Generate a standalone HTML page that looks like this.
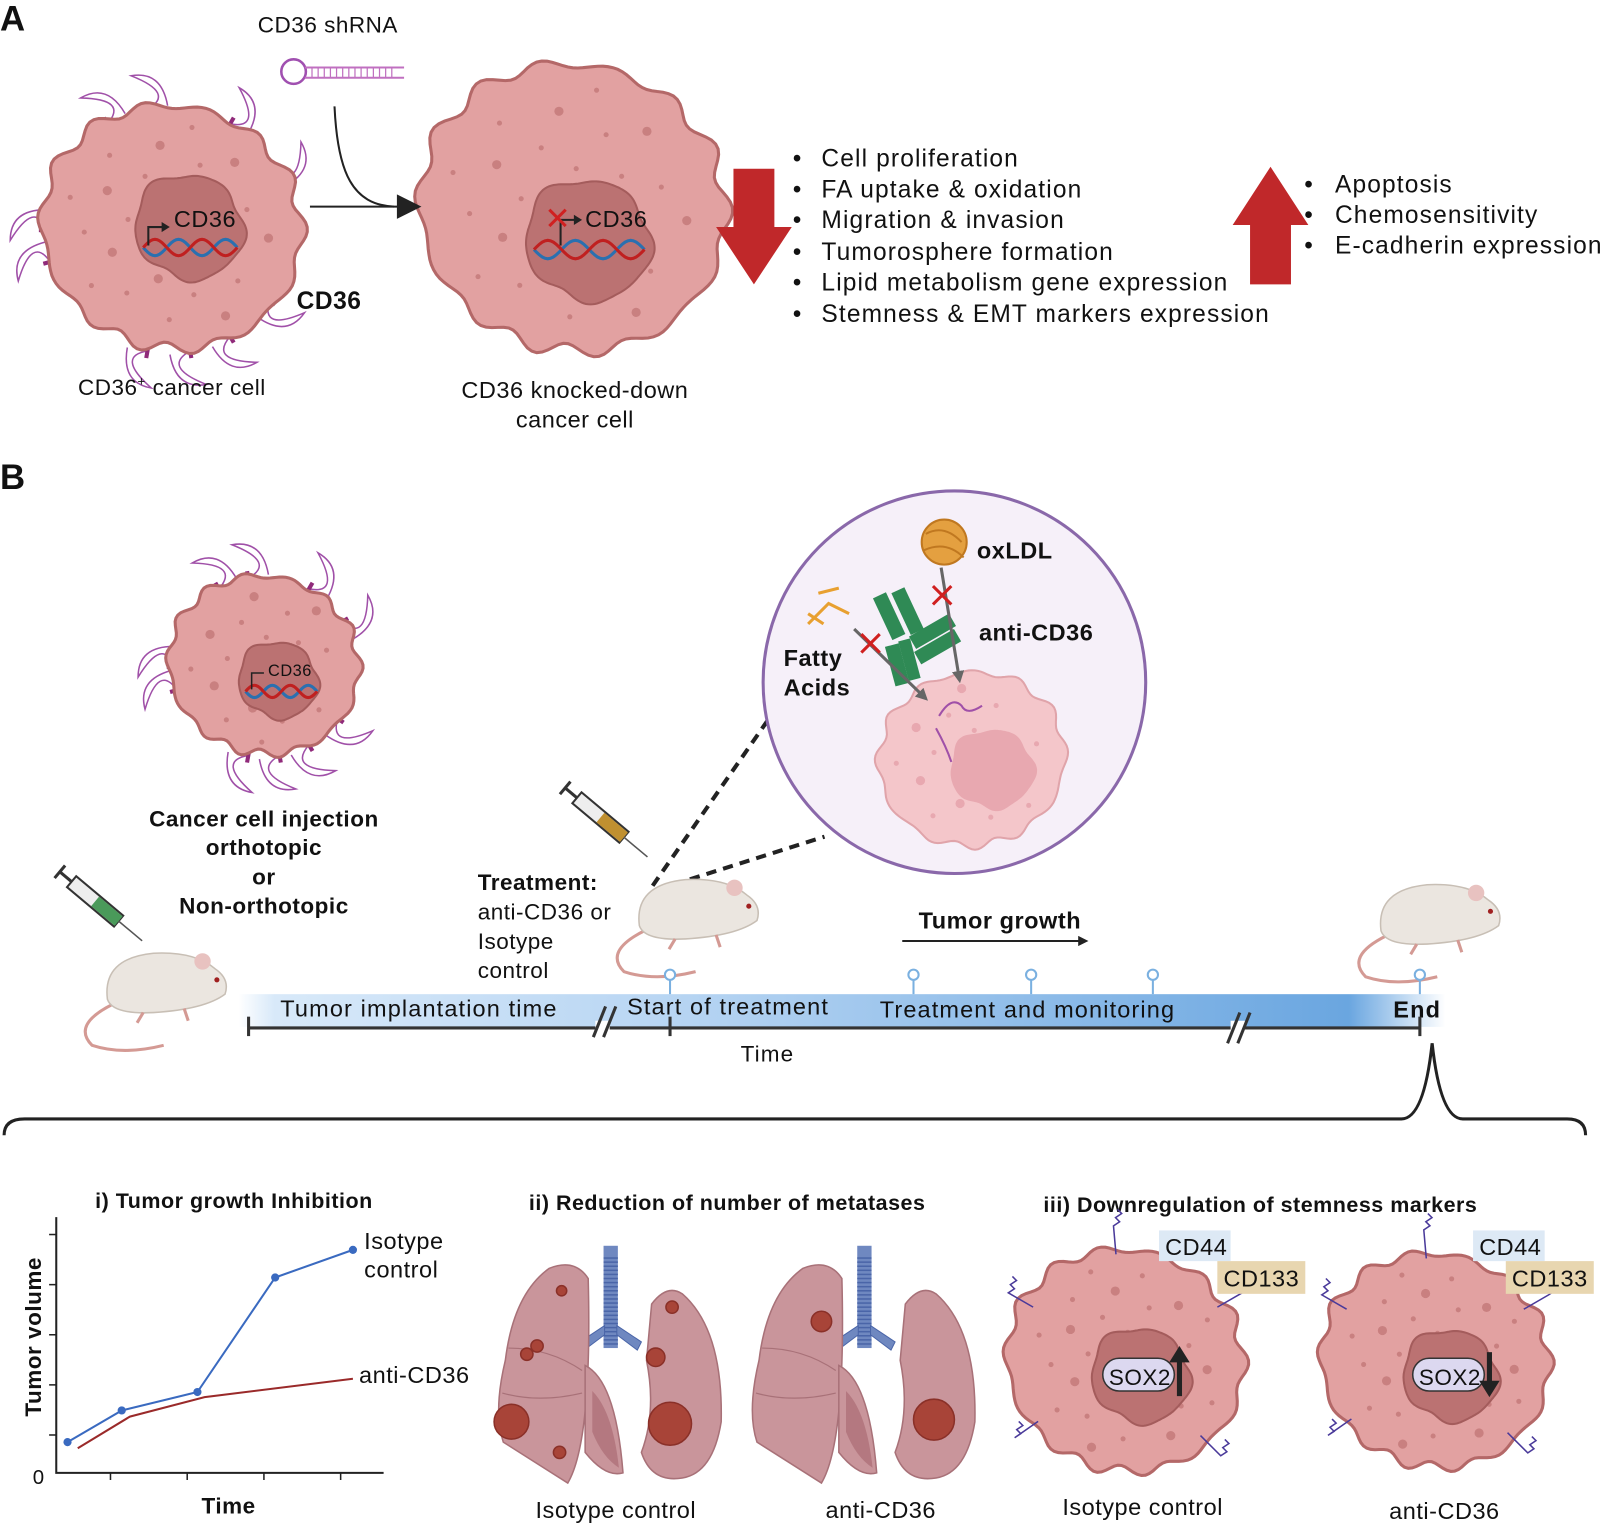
<!DOCTYPE html>
<html><head><meta charset="utf-8"><style>
html,body{margin:0;padding:0;background:#fff;}
svg{display:block;}
text{font-family:"Liberation Sans",sans-serif;fill:#111;letter-spacing:0.5px;}
.b{font-weight:bold;}
.bl text{letter-spacing:1.1px;}
</style></head><body>
<svg id="s" width="1604" height="1525" viewBox="0 0 1568 1491" preserveAspectRatio="none" xmlns="http://www.w3.org/2000/svg">
<defs>
<linearGradient id="tl" x1="0" x2="1" y1="0" y2="0">
<stop offset="0" stop-color="#ffffff"/><stop offset="0.03" stop-color="#d8e9f9"/><stop offset="0.35" stop-color="#b9d6f3"/><stop offset="0.92" stop-color="#6aa6e0"/><stop offset="1" stop-color="#ffffff"/>
</linearGradient>
<marker id="ah" markerWidth="10" markerHeight="10" refX="8" refY="5" orient="auto" markerUnits="userSpaceOnUse"><path d="M0,0 L10,5 L0,10z" fill="#222"/></marker>
<marker id="ahg" markerWidth="12" markerHeight="12" refX="9" refY="6" orient="auto" markerUnits="userSpaceOnUse"><path d="M0,0 L12,6 L0,12z" fill="#666"/></marker>
</defs>
<g id="cells"></g>

<!-- A -->
<text x="0" y="30" class="b" font-size="34">A</text>
<text x="252" y="32" font-size="22">CD36 shRNA</text>
<circle cx="287" cy="70" r="12" fill="none" stroke="#a050b0" stroke-width="2.5"/>
<path d="M298,66 H395 M298,76 H395" stroke="#c070c0" stroke-width="2"/>
<path d="M305,66 V76 M311,66V76 M317,66V76 M323,66V76 M329,66V76 M335,66V76 M341,66V76 M347,66V76 M353,66V76 M359,66V76 M365,66V76 M371,66V76 M377,66V76 M383,66V76" stroke="#c070c0" stroke-width="1.2"/>
<path d="M327,104 C330,170 345,200 385,202" fill="none" stroke="#222" stroke-width="2"/>
<path d="M303,202 H392" stroke="#222" stroke-width="2"/>
<path d="M388,190 L412,202 L388,214z" fill="#222"/>
<text x="168" y="386" font-size="22" text-anchor="middle" fill="#333">CD36<tspan font-size="13" dy="-9">+</tspan><tspan dy="9"> cancer cell</tspan></text>
<text x="290" y="302" font-size="24" class="b">CD36</text>
<text x="562" y="389" font-size="23" text-anchor="middle" fill="#333">CD36 knocked-down</text>
<text x="562" y="418" font-size="23" text-anchor="middle" fill="#333">cancer cell</text>
<!-- red arrows -->
<path d="M717,165 H757 V222 H774 L737,278 L700,222 H717z" fill="#c0282a"/>
<path d="M1222,278 H1262 V220 H1279 L1242,163 L1205,220 H1222z" fill="#c0282a"/>
<g font-size="24" class="bl">
<text x="775" y="163">•</text><text x="803" y="163">Cell proliferation</text>
<text x="775" y="193">•</text><text x="803" y="193">FA uptake &amp; oxidation</text>
<text x="775" y="223">•</text><text x="803" y="223">Migration &amp; invasion</text>
<text x="775" y="254">•</text><text x="803" y="254">Tumorosphere formation</text>
<text x="775" y="284">•</text><text x="803" y="284">Lipid metabolism gene expression</text>
<text x="775" y="315">•</text><text x="803" y="315">Stemness &amp; EMT markers expression</text>
<text x="1275" y="188">•</text><text x="1305" y="188">Apoptosis</text>
<text x="1275" y="218">•</text><text x="1305" y="218">Chemosensitivity</text>
<text x="1275" y="248">•</text><text x="1305" y="248">E-cadherin expression</text>
</g>

<!-- B -->
<text x="0" y="478" class="b" font-size="34">B</text>
<g font-size="22" class="b" text-anchor="middle">
<text x="258" y="808">Cancer cell injection</text>
<text x="258" y="836">orthotopic</text>
<text x="258" y="865">or</text>
<text x="258" y="893">Non-orthotopic</text>
</g>
<!-- zoom circle -->
<line x1="638" y1="866" x2="750" y2="705" stroke="#222" stroke-width="4" stroke-dasharray="10,7"/>
<line x1="642" y1="870" x2="806" y2="818" stroke="#222" stroke-width="4" stroke-dasharray="10,7"/>
<circle cx="933" cy="667" r="187" fill="#f6f0f9" stroke="#8a68aa" stroke-width="3"/>
<g id="inner"></g>
<circle cx="923" cy="530" r="22" fill="#e4a040" stroke="#c07820" stroke-width="2"/>
<path d="M905,522 Q923,512 940,530 M903,538 Q925,528 942,545" stroke="#c07820" stroke-width="2" fill="none"/>
<text x="955" y="546" font-size="23" class="b">oxLDL</text>
<text x="957" y="626" font-size="23" class="b">anti-CD36</text>
<text x="766" y="651" font-size="23" class="b">Fatty</text>
<text x="766" y="680" font-size="23" class="b">Acids</text>
<!-- antibody -->
<g fill="#2f8a55">
<rect x="862" y="580" width="14" height="45" transform="rotate(-25 869 602)"/>
<rect x="880" y="575" width="14" height="45" transform="rotate(-25 887 597)"/>
<rect x="905" y="595" width="14" height="45" transform="rotate(60 912 617)"/>
<rect x="910" y="610" width="14" height="45" transform="rotate(60 917 632)"/>
<rect x="870" y="630" width="14" height="40" transform="rotate(-15 877 650)"/>
<rect x="883" y="625" width="12" height="40" transform="rotate(-15 889 645)"/>
</g>
<path d="M790,610 L810,590 L830,600 M800,580 L820,575 M790,600 L805,610" stroke="#e8a030" stroke-width="3" fill="none"/>
<line x1="920" y1="555" x2="938" y2="665" stroke="#666" stroke-width="3" marker-end="url(#ahg)"/>
<line x1="835" y1="615" x2="905" y2="683" stroke="#666" stroke-width="3" marker-end="url(#ahg)"/>
<path d="M842,620 l18,18 m0,-18 l-18,18" stroke="#d02020" stroke-width="3"/>
<path d="M912,573 l18,18 m0,-18 l-18,18" stroke="#d02020" stroke-width="3"/>

<g font-size="22">
<text x="467" y="870" class="b">Treatment:</text>
<text x="467" y="899">anti-CD36 or</text>
<text x="467" y="928">Isotype</text>
<text x="467" y="956">control</text>
</g>
<g id="syr"></g>
<g id="mice"></g>

<text x="898" y="908" font-size="23" class="b">Tumor growth</text>
<line x1="882" y1="920" x2="1062" y2="920" stroke="#222" stroke-width="2" marker-end="url(#ah)"/>

<rect x="233" y="972" width="1180" height="32" fill="url(#tl)"/>
<g stroke="#7ab0e0" stroke-width="2" fill="#fff">
<line x1="655" y1="958" x2="655" y2="972"/><circle cx="655" cy="953" r="5"/>
<line x1="893" y1="958" x2="893" y2="972"/><circle cx="893" cy="953" r="5"/>
<line x1="1008" y1="958" x2="1008" y2="972"/><circle cx="1008" cy="953" r="5"/>
<line x1="1127" y1="958" x2="1127" y2="972"/><circle cx="1127" cy="953" r="5"/>
<line x1="1388" y1="958" x2="1388" y2="972"/><circle cx="1388" cy="953" r="5"/>
</g>
<g font-size="23" class="bl">
<text x="274" y="994">Tumor implantation time</text>
<text x="613" y="992">Start of treatment</text>
<text x="860" y="995">Treatment and monitoring</text>
<text x="1362" y="995" class="b">End</text>
<text x="724" y="1038" font-size="22" fill="#333">Time</text>
</g>
<g stroke="#333" stroke-width="3">
<line x1="243" y1="1005" x2="1388" y2="1005"/>
<line x1="243" y1="994" x2="243" y2="1013"/>
<line x1="655" y1="994" x2="655" y2="1013"/>
<line x1="1388" y1="994" x2="1388" y2="1013"/>
</g>
<rect x="582" y="998" width="14" height="12" fill="#fff"/>
<rect x="1203" y="998" width="14" height="12" fill="#fff"/>
<g stroke="#333" stroke-width="3">
<line x1="580" y1="1014" x2="592" y2="984"/><line x1="590" y1="1014" x2="602" y2="984"/>
<line x1="1200" y1="1020" x2="1212" y2="990"/><line x1="1210" y1="1020" x2="1222" y2="990"/>
</g>
<!-- brace -->
<path d="M4,1110 Q4,1094 24,1094 L1370,1094 Q1392,1094 1400,1020 Q1408,1094 1430,1094 L1532,1094 Q1550,1094 1550,1110" fill="none" stroke="#222" stroke-width="3"/>

<!-- i -->
<text x="93" y="1181" font-size="21" class="b" fill="#333">i) Tumor growth Inhibition</text>
<path d="M55,1190 V1440 H375" stroke="#222" stroke-width="2" fill="none"/>
<g stroke="#222" stroke-width="1.5">
<line x1="48" y1="1207" x2="55" y2="1207"/><line x1="48" y1="1256" x2="55" y2="1256"/><line x1="48" y1="1305" x2="55" y2="1305"/><line x1="48" y1="1354" x2="55" y2="1354"/><line x1="48" y1="1403" x2="55" y2="1403"/>
<line x1="108" y1="1440" x2="108" y2="1447"/><line x1="183" y1="1440" x2="183" y2="1447"/><line x1="258" y1="1440" x2="258" y2="1447"/><line x1="333" y1="1440" x2="333" y2="1447"/>
</g>
<text x="32" y="1451" font-size="20">0</text>
<text transform="translate(40,1385) rotate(-90)" font-size="22" class="b" fill="#333">Tumor volume</text>
<text x="197" y="1480" font-size="22" class="b" fill="#333">Time</text>
<polyline points="66,1410 119,1379 193,1361 269,1249 345,1222" fill="none" stroke="#3a6ac0" stroke-width="2"/>
<g fill="#3a6ac0"><circle cx="66" cy="1410" r="4"/><circle cx="119" cy="1379" r="4"/><circle cx="193" cy="1361" r="4"/><circle cx="269" cy="1249" r="4"/><circle cx="345" cy="1222" r="4"/></g>
<polyline points="76,1416 127,1385 200,1366 345,1348" fill="none" stroke="#9a2a2a" stroke-width="2"/>
<g font-size="23"><text x="356" y="1221">Isotype</text><text x="356" y="1249">control</text><text x="351" y="1352">anti-CD36</text></g>

<!-- ii -->
<text x="517" y="1183" font-size="21" class="b" fill="#333">ii) Reduction of number of metatases</text>
<g id="lungs"></g>
<text x="602" y="1484" font-size="23" text-anchor="middle">Isotype control</text>
<text x="861" y="1484" font-size="23" text-anchor="middle">anti-CD36</text>

<!-- iii -->
<text x="1020" y="1185" font-size="21" class="b" fill="#333">iii) Downregulation of stemness markers</text>
<g id="cells3"></g>
<text x="1117" y="1481" font-size="23" text-anchor="middle">Isotype control</text>
<text x="1412" y="1485" font-size="23" text-anchor="middle">anti-CD36</text>
</svg>
<script>
var NS="http://www.w3.org/2000/svg";
function el(p,tag,a,txt){var e=document.createElementNS(NS,tag);for(var k in a)e.setAttribute(k,a[k]);if(txt)e.textContent=txt;document.getElementById(p).appendChild(e);return e;}
function blob(cx,cy,r,n,amp,seed){var d="";var N=180;for(var i=0;i<=N;i++){var t=i/N*Math.PI*2;var rr=r+amp*Math.sin(n*t+seed)+amp*0.4*Math.sin((n+3)*t+seed*2)+r*0.04*Math.sin(2*t+seed);var x=cx+rr*Math.cos(t),y=cy+rr*Math.sin(t);d+=(i?"L":"M")+x.toFixed(1)+","+y.toFixed(1);}return d+"Z";}
function dots(g,cx,cy,r,n,col){for(var i=0;i<n;i++){var a=i*2.399,rr=r*Math.sqrt((i+0.5)/n);el(g,"circle",{cx:cx+rr*Math.cos(a),cy:cy+rr*Math.sin(a),r:(i%3==0?4.5:2.5),fill:col});}}
function cell(g,cx,cy,r,nx,ny,nr,opts){opts=opts||{};
el(g,"path",{d:blob(cx,cy,r,14,r*0.035,1),fill:opts.fill||"#e2a1a1",stroke:opts.stroke||"#b46868","stroke-width":3});
dots(g,cx,cy,r*0.85,opts.nd||26,opts.dot||"#c98080");
el(g,"path",{d:blob(nx,ny,nr,5,nr*0.05,0.5),fill:opts.nfill||"#bb7272",stroke:opts.nstroke||"#a45c5c","stroke-width":2});}
function recep(g,cx,cy,r,angs){angs.forEach(function(a){var t=a*Math.PI/180;var x=cx+r*Math.cos(t),y=cy+r*Math.sin(t);var x2=cx+(r+35)*Math.cos(t),y2=cy+(r+35)*Math.sin(t);var px=-Math.sin(t)*10,py=Math.cos(t)*10;
el(g,"path",{d:"M"+x+","+y+" Q"+(x+px*3+(x2-x)*0.3)+","+(y+py*3+(y2-y)*0.3)+" "+(x2-px)+","+(y2-py)+" Q"+(x2+px*2)+","+(y2+py*2)+" "+(x+px*2)+","+(y+py*2),fill:"none",stroke:"#a050a8","stroke-width":1.5});
el(g,"line",{x1:x-(x2-x)*0.15,y1:y-(y2-y)*0.15,x2:x+(x2-x)*0.2,y2:y+(y2-y)*0.2,stroke:"#902a7a","stroke-width":4});});}
function dna(g,x,y,w,h){var d1="",d2="";for(var i=0;i<=40;i++){var xx=x+w*i/40;d1+=(i?"L":"M")+xx+","+(y+h*Math.sin(i/40*Math.PI*4));d2+=(i?"L":"M")+xx+","+(y-h*Math.sin(i/40*Math.PI*4));}
el(g,"path",{d:d1,fill:"none",stroke:"#2a70b0","stroke-width":3});el(g,"path",{d:d2,fill:"none",stroke:"#c02020","stroke-width":3});}
recep("cells",165,225,120,[-120,-60,-30,180,165,35,60,80,100,-100]);
cell("cells",168,222,123,185,222,52);
dna("cells",140,242,92,8);
el("cells","path",{d:"M145,240 V222 H160",fill:"none",stroke:"#222","stroke-width":2});el("cells","path",{d:"M158,217 L166,222 L158,227z",fill:"#222"});
el("cells","text",{x:170,y:222,"font-size":23},"CD36");
cell("cells",560,203,145,575,235,60);
dna("cells",522,244,108,9);
el("cells","path",{d:"M548,240 V215 H563",fill:"none",stroke:"#222","stroke-width":2});el("cells","path",{d:"M561,210 L569,215 L561,220z",fill:"#222"});
el("cells","path",{d:"M537,205 l16,16 m0,-16 l-16,16",stroke:"#d02020","stroke-width":3});
el("cells","text",{x:572,y:222,"font-size":23},"CD36");
recep("cells",258,652,88,[-120,-60,-30,180,165,35,60,80,100,-100]);
cell("cells",258,650,90,272,665,38,{nd:20});
dna("cells",240,676,70,6);
el("cells","path",{d:"M246,674 V658 H258",fill:"none",stroke:"#222","stroke-width":1.5});
el("cells","text",{x:262,y:661,"font-size":16},"CD36");
el("inner","path",{d:blob(950,742,88,12,3,2),fill:"#f4c6ca",stroke:"#e0a4aa","stroke-width":2});
dots("inner",950,742,75,18,"#e8a8b0");
el("inner","path",{d:blob(970,752,40,5,2,1),fill:"#e8a8b0"});
el("inner","path",{d:"M918,700 Q930,680 940,690 Q945,700 960,690 M915,712 Q925,730 930,745",fill:"none",stroke:"#a050a8","stroke-width":2});
function syr(x,y,col){var g=el("syr","g",{transform:"translate("+x+","+y+") rotate(40)"});
var id="sg"+x;g.setAttribute("id",id);
el(id,"rect",{x:0,y:-7,width:60,height:14,fill:"#eee",stroke:"#333","stroke-width":2});
el(id,"rect",{x:30,y:-6,width:30,height:12,fill:col});
el(id,"line",{x1:-15,y1:0,x2:0,y2:0,stroke:"#333","stroke-width":3});
el(id,"line",{x1:-15,y1:-8,x2:-15,y2:8,stroke:"#333","stroke-width":3});
el(id,"line",{x1:60,y1:0,x2:90,y2:0,stroke:"#555","stroke-width":1.5});}
syr(70,862,"#4a9a5a");syr(564,780,"#c09030");
function mouse(x,y,s,flip){var g=el("mice","g",{transform:"translate("+x+","+y+") scale("+(flip?-s:s)+","+s+")"});var id="m"+x;g.setAttribute("id",id);
el(id,"path",{d:"M-40,20 Q-80,40 -60,60 Q-30,70 10,60",fill:"none",stroke:"#d49a94","stroke-width":3});
el(id,"path",{d:"M-45,15 Q-50,-25 0,-30 Q40,-32 60,-15 Q75,-5 70,10 Q50,25 0,28 Q-40,30 -45,15z",fill:"#ebe6e0",stroke:"#c8bfb5","stroke-width":1.5});
el(id,"circle",{cx:48,cy:-22,r:8,fill:"#e8c2c0"});el(id,"circle",{cx:62,cy:-4,r:2.5,fill:"#a02020"});
el(id,"path",{d:"M-10,28 l-6,10 M30,24 l4,12",stroke:"#d49a94","stroke-width":3});}
mouse(150,962,1,false);mouse(670,890,1,false);mouse(1395,895,1,false);
function lungs(cx,many){var g="lungs";
el(g,"rect",{x:cx-7,y:1218,width:14,height:100,fill:"#6f88c0"});
for(var i=0;i<22;i++)el(g,"line",{x1:cx-7,x2:cx+7,y1:1230+i*4,y2:1230+i*4,stroke:"#4a65a8","stroke-width":1.5});
el(g,"path",{d:"M"+(cx-6)+",1305 L"+(cx-26)+",1320 L"+(cx-30)+",1312 L"+(cx-6)+",1296 Z M"+(cx+6)+",1305 L"+(cx+26)+",1320 L"+(cx+30)+",1312 L"+(cx+6)+",1296Z",fill:"#6f88c0",stroke:"#4a65a8"});
el(g,"path",{d:"M"+(cx-22)+",1250 Q"+(cx-35)+",1230 "+(cx-60)+",1240 Q"+(cx-95)+",1265 "+(cx-103)+",1330 Q"+(cx-115)+",1380 "+(cx-105)+",1410 L"+(cx-42)+",1450 Q"+(cx-30)+",1430 "+(cx-25)+",1380 Q"+(cx-20)+",1330 "+(cx-22)+",1250Z",fill:"#c9959b",stroke:"#a87178","stroke-width":1.5});
el(g,"path",{d:"M"+(cx-25)+",1335 Q"+(cx+5)+",1350 "+(cx+12)+",1440 Q"+(cx-5)+",1445 "+(cx-25)+",1420Z",fill:"#c9959b",stroke:"#a87178","stroke-width":1.5});
el(g,"path",{d:"M"+(cx-18)+",1360 Q"+(cx+2)+",1380 "+(cx+8)+",1435 Q"+(cx-8)+",1425 "+(cx-18)+",1400Z",fill:"#b47880"});
el(g,"path",{d:"M"+(cx-100)+",1318 Q"+(cx-60)+",1318 "+(cx-28)+",1340 M"+(cx-106)+",1362 Q"+(cx-70)+",1372 "+(cx-28)+",1362",fill:"none",stroke:"#a87178","stroke-width":1.2});
el(g,"path",{d:"M"+(cx+40)+",1275 Q"+(cx+55)+",1255 "+(cx+70)+",1265 Q"+(cx+110)+",1300 "+(cx+108)+",1390 Q"+(cx+100)+",1440 "+(cx+70)+",1445 Q"+(cx+40)+",1450 "+(cx+30)+",1420 Q"+(cx+45)+",1380 "+(cx+35)+",1330 Z",fill:"#c9959b",stroke:"#a87178","stroke-width":1.5});
function tum(x,y,r){el(g,"circle",{cx:x,cy:y,r:r,fill:"#a84438",stroke:"#8a3028","stroke-width":1.5});}
if(many){tum(cx-97,1390,17);tum(cx+58,1392,21);tum(cx+44,1327,9);tum(cx-82,1324,6);tum(cx-72,1316,6);tum(cx+60,1278,6);tum(cx-48,1262,5);tum(cx-50,1420,6);}
else{tum(cx-42,1292,10);tum(cx+68,1388,20);}}
lungs(597,true);lungs(845,false);
function c3(cx,cy,r,up,b1,b2){var g="cells3";
cell(g,cx,cy,r,cx+15,cy+15,r*0.42,{nd:30});
el(g,"rect",{x:cx-22,y:cy-2,width:70,height:32,rx:16,fill:"#dcd8f0",stroke:"#333","stroke-width":1.5});
el(g,"text",{x:cx-16,y:cy+24,"font-size":22},"SOX2");
el(g,"line",{x1:cx+53,y1:up?cy+35:cy-8,x2:cx+53,y2:up?cy-2:cy+22,stroke:"#222","stroke-width":5});
el(g,"path",{d:up?("M"+(cx+43)+","+(cy+2)+" L"+(cx+53)+","+(cy-14)+" L"+(cx+63)+","+(cy+2)+"Z"):("M"+(cx+43)+","+(cy+20)+" L"+(cx+53)+","+(cy+36)+" L"+(cx+63)+","+(cy+20)+"Z"),fill:"#222"});
[[-95,30],[-150,30],[-30,30],[145,30],[45,30]].forEach(function(p){var t=p[0]*Math.PI/180;var x=cx+(r-8)*Math.cos(t),y=cy+(r-8)*Math.sin(t);var x2=cx+(r+20)*Math.cos(t),y2=cy+(r+20)*Math.sin(t);
el(g,"path",{d:"M"+x+","+y+" L"+x2+","+y2+" l6,-4 l-4,-4 l6,-4 l-4,-4",fill:"none",stroke:"#4a3a9a","stroke-width":1.5});});
el(g,"rect",{x:b1,y:1203,width:70,height:30,fill:"#dde9f5"});el(g,"text",{x:b1+6,y:1227,"font-size":23},"CD44");
el(g,"rect",{x:b2,y:1233,width:86,height:32,fill:"#e8d6b0"});el(g,"text",{x:b2+6,y:1258,"font-size":23},"CD133");}
c3(1100,1330,112,true,1133,1190);c3(1403,1330,108,false,1440,1472);
</script>
</body></html>
